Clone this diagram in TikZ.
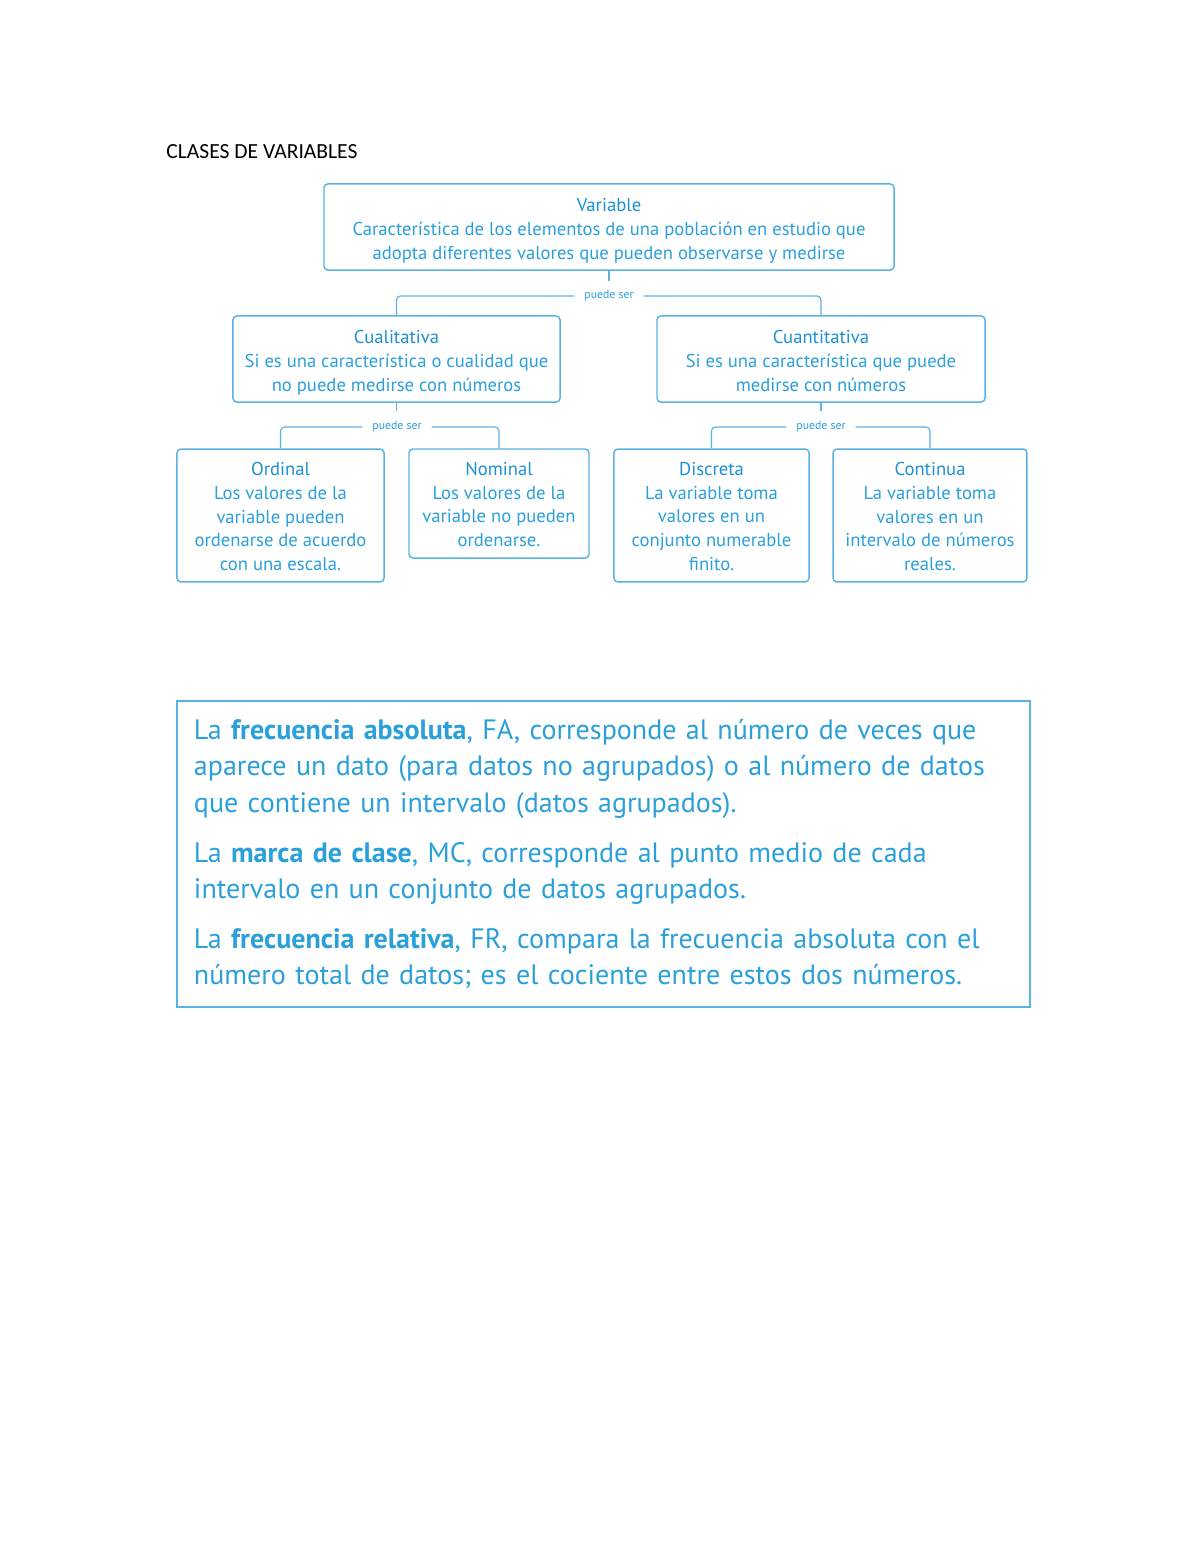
\documentclass[tikz,border=0pt]{standalone}
\usepackage{fontspec}
\setmainfont{PT Sans}
\newfontfamily\titlefont{Carlito}
\definecolor{tblue}{HTML}{2A9FDA}
\definecolor{bblue}{HTML}{5AB2E2}
\definecolor{hblue}{HTML}{1B90D2}
\begin{document}
\begin{tikzpicture}[x=0.51pt,y=-0.51pt,
  box/.style={draw=bblue, line width=0.75pt, rounded corners=2pt, inner sep=0pt},
  boxtext/.style={text=tblue, align=center, inner sep=0pt, font=\fontsize{9.5}{12.2}\selectfont},
  conn/.style={draw=bblue, line width=0.6pt, rounded corners=2pt},
  pslabel/.style={text=tblue, font=\fontsize{6}{7}\selectfont, inner xsep=5pt, inner ysep=1pt},
  infobox/.style={draw=bblue, line width=1pt, text=tblue, align=left, inner xsep=8.7pt, inner ysep=0pt,
    text width=417.7pt, minimum width=435pt, minimum height=156.1pt, font=\fontsize{14.3}{18.4}\selectfont}
]
\path[use as bounding box] (0,0) rectangle (1200,1553);

\node[anchor=base west, inner sep=0pt, font=\titlefont\fontsize{11}{13}\selectfont] (title) at (166,159) {CLASES DE VARIABLES};

\node[box, minimum width=290.7pt, minimum height=43.9pt] (var) at (609,227) {};
\node[boxtext] (varT) at (609,231)
 {{\color{hblue}Variable}\\Característica de los elementos de una población en estudio que\\adopta diferentes valores que pueden observarse y medirse};

\node[box, minimum width=166.8pt, minimum height=43.9pt] (cual) at (396.5,359) {};
\node[boxtext] (cualT) at (396.5,363)
 {{\color{hblue}Cualitativa}\\Si es una característica o cualidad que\\no puede medirse con números};

\node[box, minimum width=167.3pt, minimum height=43.9pt] (cuan) at (821,359) {};
\node[boxtext] (cuanT) at (821,361)
 {{\color{hblue}Cuantitativa}\\Si es una característica que puede\\medirse con números};

\node[box, minimum width=105.6pt, minimum height=67.8pt] (ord) at (280.5,515.5) {};
\node[boxtext] (ordT) at (280.5,516.5)
 {{\color{hblue}Ordinal}\\Los valores de la\\variable pueden\\ordenarse de acuerdo\\con una escala.};

\node[box, minimum width=91.8pt, minimum height=55.6pt] (nom) at (499,503.5) {};
\node[boxtext] (nomT) at (499,504.5)
 {{\color{hblue}Nominal}\\Los valores de la\\variable no pueden\\ordenarse.};

\node[box, minimum width=99.5pt, minimum height=67.8pt] (dis) at (711.5,515.5) {};
\node[boxtext] (disT) at (711.5,516.5)
 {{\color{hblue}Discreta}\\La variable toma\\valores en un\\conjunto numerable\\finito.};

\node[box, minimum width=98.9pt, minimum height=67.8pt] (con) at (930,515.5) {};
\node[boxtext] (conT) at (930,516.5)
 {{\color{hblue}Continua}\\La variable toma\\valores en un\\intervalo de números\\reales.};

% connectors level 1
\node[pslabel] (p1) at (609,296) {puede ser};
\draw[conn] (var.south) -- ++(0,10);
\draw[conn] (p1.west) -| (cual.north);
\draw[conn] (p1.east) -| (cuan.north);

% connectors level 2 left
\node[pslabel] (p2) at (397,427) {puede ser};
\draw[conn] (cual.south) -- ++(0,8);
\draw[conn] (p2.west) -| (ord.north);
\draw[conn] (p2.east) -| (nom.north);

% connectors level 2 right
\node[pslabel] (p3) at (821,427) {puede ser};
\draw[conn] (cuan.south) -- ++(0,8);
\draw[conn] (p3.west) -| (dis.north);
\draw[conn] (p3.east) -| (con.north);

% info box
\node[infobox] (info) at (603.5,854)
 {La \textbf{frecuencia absoluta}, FA, corresponde al número de veces que\\
  aparece un dato (para datos no agrupados) o al número de datos\\
  que contiene un intervalo (datos agrupados).\\[7.1pt]
  La \textbf{marca de clase}, MC, corresponde al punto medio de cada\\
  intervalo en un conjunto de datos agrupados.\\[7.1pt]
  La \textbf{frecuencia relativa}, FR, compara la frecuencia absoluta con el\\
  número total de datos; es el cociente entre estos dos números.};
\end{tikzpicture}
\end{document}
